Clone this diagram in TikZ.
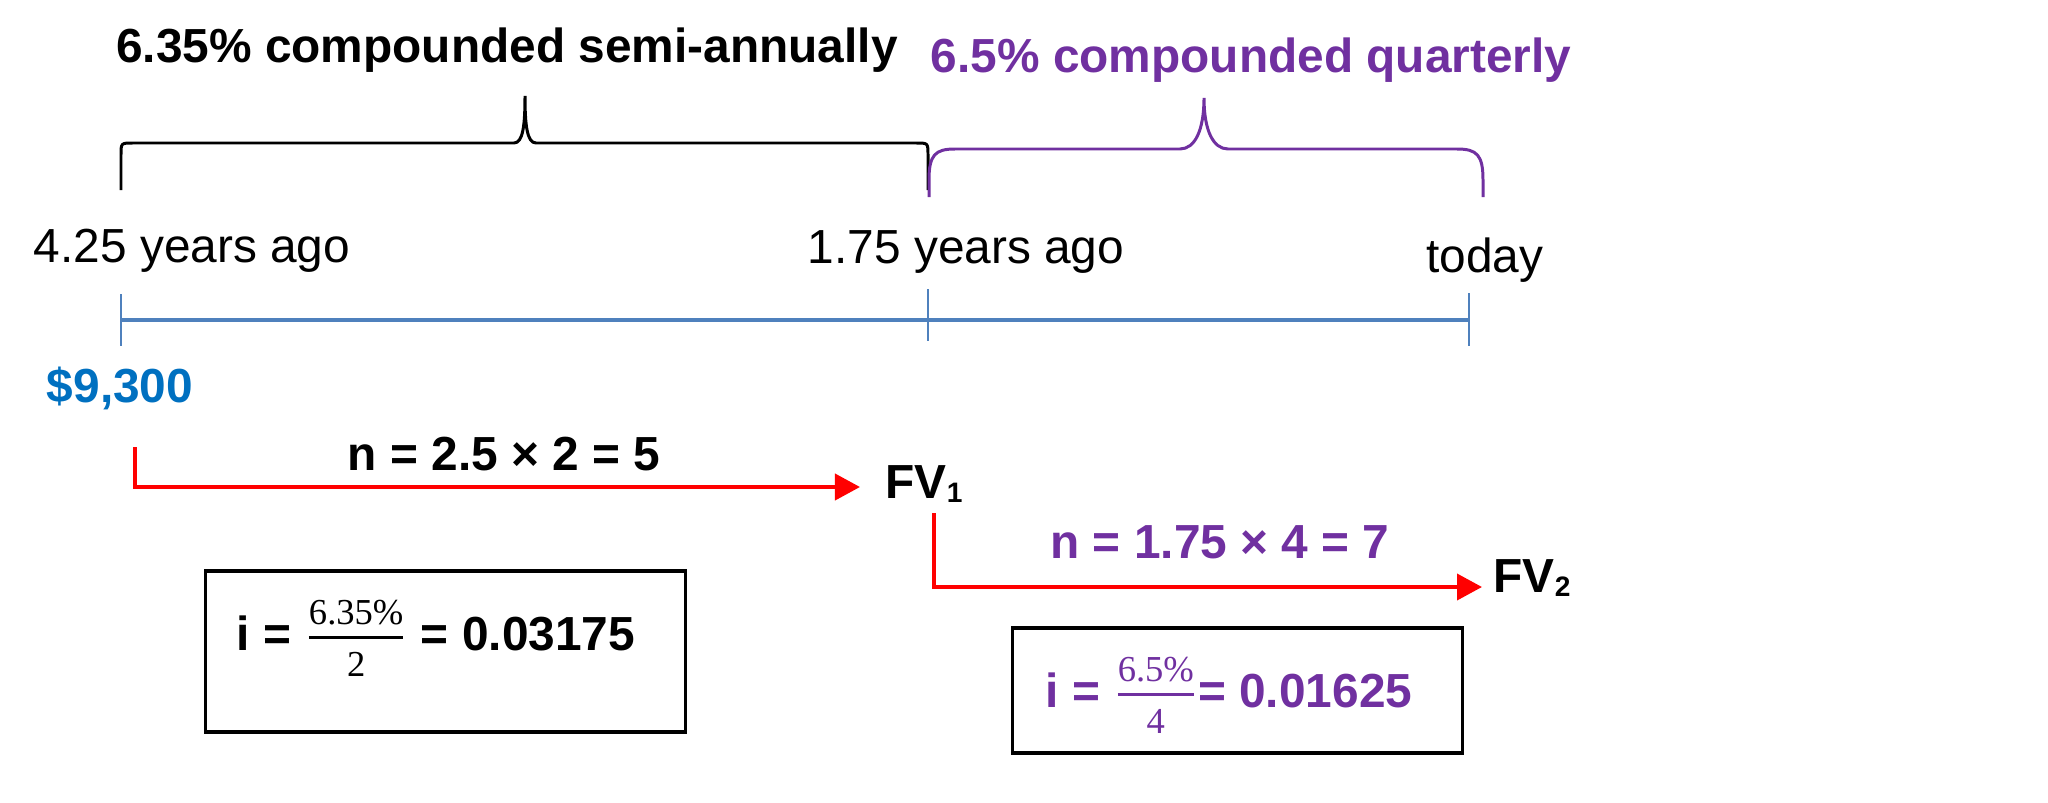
\documentclass[tikz,border=0pt]{standalone}
\usepackage{fontspec}
\setmainfont{Liberation Sans}
\newfontfamily\fracfont{Liberation Serif}
\usetikzlibrary{arrows.meta}
\definecolor{rateblue}{RGB}{0,112,192}
\definecolor{ratepurple}{RGB}{112,48,160}
\definecolor{axisblue}{RGB}{79,129,189}
\newcommand{\subidx}[1]{\raisebox{-0.04cm}{\fontsize{8pt}{9pt}\selectfont #1}}
\newcommand{\ratefrac}[2]{${\mbox{\fracfont\mdseries\fontsize{10.4pt}{12pt}\selectfont\rule[-0.09cm]{0pt}{0pt}#1}\above 0.75pt\mbox{\fracfont\mdseries\fontsize{10.4pt}{12pt}\selectfont\rule{0pt}{0.35cm}#2}}$}

\begin{document}
\begin{tikzpicture}[x=0.01cm, y=-0.01cm,
  every node/.style={font=\fontsize{13.6pt}{16pt}\selectfont, inner sep=0pt},
  heading/.style={font=\fontsize{13.6pt}{16pt}\selectfont\bfseries, anchor=base},
  period/.style={anchor=base},
  axis/.style={draw=axisblue, line width=1.3pt},
  tick/.style={draw=axisblue, line width=0.8pt},
  bracket/.style={line width=0.85pt},
  flow/.style={draw=red, line width=1.1pt, -{Triangle[length=0.25cm,width=0.26cm]}},
  ratebox/.style={draw, line width=0.9pt}]
  \useasboundingbox (0,0) rectangle (2048,803);

  % time line
  \coordinate (t0) at (121,320);
  \coordinate (t1) at (928,320);
  \coordinate (t2) at (1469,320);
  \draw[axis] (t0) -- (t1) -- (t2);
  \foreach \x/\a/\b in {121/294/346, 928/289/341, 1469/293/346}
    \draw[tick] (\x,\a) -- (\x,\b);

  \node[period] (ago425) at (192,262) {4.25 years ago};
  \node[period] (ago175) at (966,263) {1.75 years ago};
  \node[period] (today) at (1485,272) {today};
  \node[heading, text=rateblue] (pv) at (120,402) {\$9,300};

  % braces
  \draw[bracket] (121,190) -- (121,155) .. controls (121,143) .. (133,143) -- (514,143)
    .. controls (523,143) and (525,125) .. (525,96) .. controls (525,125) and (527,143) .. (536,143)
    -- (916,143) .. controls (928,143) .. (928,155) -- (928,190);
  \node[heading] (semi) at (507,62) {6.35\% compounded semi-annually};

  \draw[bracket, draw=ratepurple] (929,197) -- (929,180) .. controls (929,155) and (935,149) .. (955,149)
    -- (1180,149) .. controls (1195,149) and (1204,130) .. (1204,98)
    .. controls (1204,130) and (1213,149) .. (1228,149) -- (1457,149)
    .. controls (1477,149) and (1483,155) .. (1483,180) -- (1483,197);
  \node[heading, text=ratepurple] (quart) at (1251,72) {6.5\% compounded quarterly};

  % compounding steps
  \coordinate (s1) at (135,447);
  \coordinate (e1) at (860,487);
  \draw[flow] (s1) |- (e1);
  \node[heading] (n1) at (504,470) {n = 2.5 × 2 = 5};
  \node[heading, anchor=base west] (fv1) at (885,498) {FV\subidx{1}};

  \coordinate (s2) at (934,513);
  \coordinate (e2) at (1482,587);
  \draw[flow] (s2) |- (e2);
  \node[heading, text=ratepurple] (n2) at (1220,558) {n = 1.75 × 4 = 7};
  \node[heading, anchor=base west] (fv2) at (1493,592) {FV\subidx{2}};

  % periodic rates
  \node[ratebox, minimum width=4.79cm, minimum height=1.61cm] (box1) at (445.5,651.5) {};
  \node[heading] (i1) at (436,650) {i = \ratefrac{6.35\%}{2}\ = 0.03175};
  \node[ratebox, minimum width=4.49cm, minimum height=1.25cm] (box2) at (1237.5,690.5) {};
  \node[heading, text=ratepurple] (i2) at (1229,707) {i = \ratefrac{6.5\%}{4}= 0.01625};
\end{tikzpicture}
\end{document}
